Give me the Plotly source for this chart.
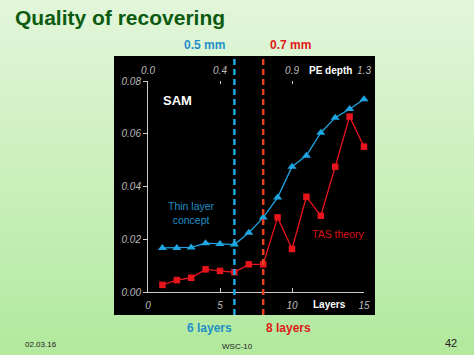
import plotly.graph_objects as go

layers = list(range(1, 16))
thin_layer = [0.0167, 0.0167, 0.0169, 0.0185, 0.0182, 0.0180, 0.0225, 0.0282,
              0.0358, 0.0475, 0.0517, 0.0604, 0.0661, 0.0694, 0.0731]
tas_theory = [0.0027, 0.0045, 0.0054, 0.0086, 0.0080, 0.0075, 0.0105, 0.0105,
              0.0283, 0.0163, 0.0361, 0.0289, 0.0475, 0.0665, 0.0551]
x_ticks = [0, 5, 10, 15]
y_ticks = [0.00, 0.02, 0.04, 0.06, 0.08]
pe_labels = ["0.0", "0.4", "0.9", "1.3"]
marker_layers = [6, 8]
marker_mm = ["0.5 mm", "0.7 mm"]
marker_names = ["6 layers", "8 layers"]

W, H = 474, 355
L, R, T, B = 148, 364, 81, 292
pw, ph = R - L, B - T

def px(x):
    return (x - L) / pw

def py(y):
    return (B - y) / ph

BLUE = "#1ea6e2"
RED = "#e8141c"
DASH_RED = "#e5401f"
TXT_BLUE = "#1f8fc8"
TXT_RED = "#e01818"

fig = go.Figure()

fig.add_trace(go.Scatter(x=layers, y=thin_layer, mode="lines+markers",
                         line=dict(color=BLUE, width=1.3),
                         marker=dict(symbol="triangle-up", size=8, color=BLUE),
                         cliponaxis=False, showlegend=False))
fig.add_trace(go.Scatter(x=layers, y=tas_theory, mode="lines+markers",
                         line=dict(color=RED, width=1.3),
                         marker=dict(symbol="square", size=6.5, color=RED),
                         cliponaxis=False, showlegend=False))
# invisible trace for top axis
fig.add_trace(go.Scatter(x=x_ticks, y=[None] * 4, xaxis="x2", showlegend=False,
                         hoverinfo="skip"))

shapes = []
# background gradient bands (slide decoration)
n = 50
c0 = (226, 246, 218)
c1 = (178, 233, 158)
for i in range(n):
    t = i / (n - 1)
    c = tuple(round(c0[k] + (c1[k] - c0[k]) * t) for k in range(3))
    y_top = i * H / n
    y_bot = (i + 1) * H / n + 0.5
    shapes.append(dict(type="rect", xref="paper", yref="paper",
                       x0=px(0), x1=px(W), y0=py(y_bot), y1=py(y_top),
                       fillcolor="rgb(%d,%d,%d)" % c, line=dict(width=0),
                       layer="below"))
# black panel
shapes.append(dict(type="rect", xref="paper", yref="paper",
                   x0=px(114), x1=px(375), y0=py(315), y1=py(56),
                   fillcolor="black", line=dict(width=0), layer="below"))
# dashed layer markers
for xv, col in zip(marker_layers, [BLUE, DASH_RED]):
    shapes.append(dict(type="line", xref="x", yref="paper",
                       x0=xv, x1=xv, y0=py(315), y1=py(56),
                       line=dict(color=col, width=2.5, dash="6px,4px")))

annotations = [
    dict(text="<b>Quality of recovering</b>", xref="paper", yref="paper",
         x=px(13), y=py(18), xanchor="left", yanchor="middle", showarrow=False,
         font=dict(family="Liberation Sans", size=21, color="#0b5a10")),
    dict(text="<b>SAM</b>", xref="paper", yref="paper", x=px(161), y=py(100),
         xanchor="left", yanchor="middle", showarrow=False,
         font=dict(family="Liberation Sans", size=13, color="white")),
    dict(text="Thin layer<br>concept", xref="paper", yref="paper", x=px(191), y=py(213),
         xanchor="center", yanchor="middle", showarrow=False,
         font=dict(family="Liberation Sans", size=10.5, color=TXT_BLUE)),
    dict(text="TAS theory", xref="paper", yref="paper", x=px(338), y=py(234),
         xanchor="center", yanchor="middle", showarrow=False,
         font=dict(family="Liberation Sans", size=10.5, color="#d8141c")),
    dict(text="<b>Layers</b>", xref="paper", yref="paper", x=px(329), y=py(304),
         xanchor="center", yanchor="middle", showarrow=False,
         font=dict(family="Liberation Sans", size=10, color="white")),
    dict(text="<b>PE depth</b>", xref="paper", yref="paper", x=px(330), y=py(70),
         xanchor="center", yanchor="middle", showarrow=False,
         font=dict(family="Liberation Sans", size=10, color="white")),
    dict(text="02.03.16", xref="paper", yref="paper", x=px(23), y=py(344),
         xanchor="left", yanchor="middle", showarrow=False,
         font=dict(family="Liberation Sans", size=8, color="#222222")),
    dict(text="WSC-10", xref="paper", yref="paper", x=px(237), y=py(346),
         xanchor="center", yanchor="middle", showarrow=False,
         font=dict(family="Liberation Sans", size=8, color="#222222")),
    dict(text="42", xref="paper", yref="paper", x=px(451), y=py(343),
         xanchor="center", yanchor="middle", showarrow=False,
         font=dict(family="Liberation Sans", size=11, color="#222222")),
]
top_anchor = [("right", -7), ("left", 5)]
bot_anchor = [("right", 0), ("left", 1)]
for i, (xv, mm, nm, col) in enumerate(zip(marker_layers, marker_mm, marker_names,
                                          [TXT_BLUE, TXT_RED])):
    annotations.append(dict(text="<b>%s</b>" % mm, x=xv, xref="x", yref="paper",
                            y=py(45), xanchor=top_anchor[i][0], xshift=top_anchor[i][1],
                            yanchor="middle", showarrow=False,
                            font=dict(family="Liberation Sans", size=12, color=col)))
    annotations.append(dict(text="<b>%s</b>" % nm, x=xv, xref="x", yref="paper",
                            y=py(328), xanchor=bot_anchor[i][0], xshift=bot_anchor[i][1],
                            yanchor="middle", showarrow=False,
                            font=dict(family="Liberation Sans", size=12, color=col)))

tickfont = dict(family="Liberation Sans", size=10, color="#bbbbbb")

fig.update_layout(
    width=W, height=H,
    margin=dict(l=L, r=W - R, t=T, b=H - B, pad=0),
    paper_bgcolor="#d0f0c4",
    plot_bgcolor="rgba(0,0,0,0)",
    shapes=shapes,
    annotations=annotations,
    xaxis=dict(range=[0, 15], tickvals=x_ticks, ticktext=["<i>%d</i>" % v for v in x_ticks],
               showgrid=False, zeroline=False, showline=True, linecolor="#cccccc",
               linewidth=1, ticks="inside", ticklen=4, tickcolor="#cccccc",
               tickfont=tickfont, ticklabelstandoff=4),
    xaxis2=dict(range=[0, 15], overlaying="x", side="top", tickvals=x_ticks,
                ticktext=["<i>%s</i>" % s for s in pe_labels], showgrid=False,
                zeroline=False, showline=False, ticks="inside", ticklen=3,
                tickcolor="#cccccc", tickfont=tickfont, ticklabelstandoff=4),
    yaxis=dict(range=[0, 0.08], tickvals=y_ticks,
               ticktext=["<i>%.2f</i>" % v for v in y_ticks],
               showgrid=False, zeroline=False, showline=True, linecolor="#cccccc",
               linewidth=1, ticks="outside", ticklen=4, tickcolor="#cccccc",
               tickfont=tickfont),
)

fig.write_html("out.html")
